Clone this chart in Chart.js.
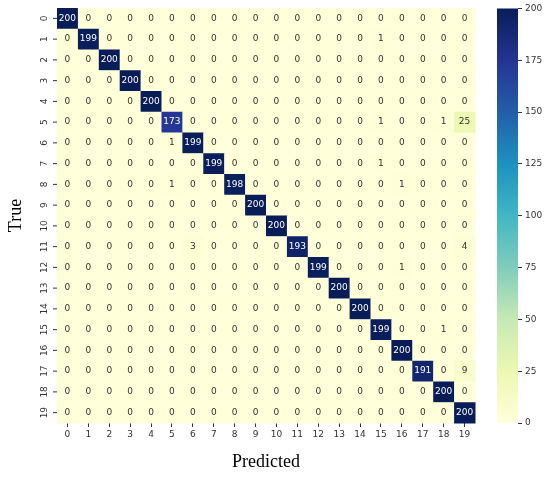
<!DOCTYPE html>
<html>
<head>
<meta charset="utf-8">
<script src="https://cdn.jsdelivr.net/npm/chart.js@4"></script>
<style>
  body { margin: 0; background: #fff; }
  #wrap { position: relative; width: 550px; height: 477px; }
  #main { position: absolute; left: 0; top: 0; }
  #bar { position: absolute; left: 490px; top: 0; }
</style>
</head>
<body>
<div id="wrap">
  <canvas id="main" width="490" height="477"></canvas>
  <canvas id="bar" width="60" height="477"></canvas>
</div>
<script>
const labels = Array.from({ length: 20 }, (_, i) => String(i));

// confusion matrix, rows = true class, cols = predicted
const matrix = [
  [200,0,0,0,0,0,0,0,0,0,0,0,0,0,0,0,0,0,0,0],
  [0,199,0,0,0,0,0,0,0,0,0,0,0,0,0,1,0,0,0,0],
  [0,0,200,0,0,0,0,0,0,0,0,0,0,0,0,0,0,0,0,0],
  [0,0,0,200,0,0,0,0,0,0,0,0,0,0,0,0,0,0,0,0],
  [0,0,0,0,200,0,0,0,0,0,0,0,0,0,0,0,0,0,0,0],
  [0,0,0,0,0,173,0,0,0,0,0,0,0,0,0,1,0,0,1,25],
  [0,0,0,0,0,1,199,0,0,0,0,0,0,0,0,0,0,0,0,0],
  [0,0,0,0,0,0,0,199,0,0,0,0,0,0,0,1,0,0,0,0],
  [0,0,0,0,0,1,0,0,198,0,0,0,0,0,0,0,1,0,0,0],
  [0,0,0,0,0,0,0,0,0,200,0,0,0,0,0,0,0,0,0,0],
  [0,0,0,0,0,0,0,0,0,0,200,0,0,0,0,0,0,0,0,0],
  [0,0,0,0,0,0,3,0,0,0,0,193,0,0,0,0,0,0,0,4],
  [0,0,0,0,0,0,0,0,0,0,0,0,199,0,0,0,1,0,0,0],
  [0,0,0,0,0,0,0,0,0,0,0,0,0,200,0,0,0,0,0,0],
  [0,0,0,0,0,0,0,0,0,0,0,0,0,0,200,0,0,0,0,0],
  [0,0,0,0,0,0,0,0,0,0,0,0,0,0,0,199,0,0,1,0],
  [0,0,0,0,0,0,0,0,0,0,0,0,0,0,0,0,200,0,0,0],
  [0,0,0,0,0,0,0,0,0,0,0,0,0,0,0,0,0,191,0,9],
  [0,0,0,0,0,0,0,0,0,0,0,0,0,0,0,0,0,0,200,0],
  [0,0,0,0,0,0,0,0,0,0,0,0,0,0,0,0,0,0,0,200],
];
const colorTicks = [0, 25, 50, 75, 100, 125, 150, 175, 200];

// YlGnBu
const stops = ["#ffffd9","#edf8b1","#c7e9b4","#7fcdbb","#41b6c4","#1d91c0","#225ea8","#253494","#081d58"];
function hex(c) { return [1,3,5].map(i => parseInt(c.substr(i,2),16)); }
function cmap(t) {
  t = Math.max(0, Math.min(1, t)) * (stops.length - 1);
  const i = Math.min(Math.floor(t), stops.length - 2), f = t - i;
  const a = hex(stops[i]), b = hex(stops[i+1]);
  return "rgb(" + a.map((v, k) => Math.round(v + (b[k]-v)*f)).join(",") + ")";
}

const points = [];
matrix.forEach((row, r) => row.forEach((v, c) => points.push({ x: c, y: r, v: v })));

const heatPlugin = {
  id: "heat",
  beforeDatasetsDraw(chart) {
    const { ctx, scales: { x, y } } = chart;
    ctx.save();
    ctx.font = "9px 'DejaVu Sans'";
    ctx.textAlign = "center";
    ctx.textBaseline = "middle";
    points.forEach(p => {
      const x0 = x.getPixelForValue(p.x - 0.5), x1 = x.getPixelForValue(p.x + 0.5);
      const y0 = y.getPixelForValue(p.y - 0.5), y1 = y.getPixelForValue(p.y + 0.5);
      ctx.fillStyle = cmap(p.v / 200);
      ctx.fillRect(x0, y0, x1 - x0 + 0.5, y1 - y0 + 0.5);
    });
    points.forEach(p => {
      ctx.fillStyle = p.v > 100 ? "#ffffff" : "#333333";
      ctx.fillText(String(p.v), x.getPixelForValue(p.x), y.getPixelForValue(p.y));
    });
    // rotated y tick labels and tick marks
    ctx.fillStyle = "#333";
    ctx.strokeStyle = "#333";
    ctx.lineWidth = 1;
    labels.forEach((l, i) => {
      const py = y.getPixelForValue(i);
      ctx.beginPath();
      ctx.moveTo(y.right - 4, py);
      ctx.lineTo(y.right, py);
      ctx.stroke();
      ctx.save();
      ctx.translate(45, py);
      ctx.rotate(-Math.PI / 2);
      ctx.fillText(l, 0, 0);
      ctx.restore();
    });
    // axis titles
    ctx.fillStyle = "#000";
    ctx.font = "18px 'Liberation Serif'";
    ctx.fillText("Predicted", (x.left + x.right) / 2, 462);
    ctx.save();
    ctx.translate(16, (y.top + y.bottom) / 2);
    ctx.rotate(-Math.PI / 2);
    ctx.fillText("True", 0, 0);
    ctx.restore();
    ctx.restore();
  }
};

new Chart(document.getElementById("main"), {
  type: "scatter",
  data: { datasets: [{ data: points, pointRadius: 0 }] },
  plugins: [heatPlugin],
  options: {
    responsive: false,
    animation: false,
    layout: { padding: { top: 8, right: 15, left: 0, bottom: 0 } },
    plugins: { legend: { display: false }, tooltip: { enabled: false } },
    scales: {
      x: {
        min: -0.5, max: 19.5,
        afterFit: s => { s.height = 54; },
        afterBuildTicks: s => { s.ticks = labels.map((_, i) => ({ value: i })); },
        grid: { drawOnChartArea: false, drawTicks: true, tickLength: 4, color: "#333" },
        border: { display: false },
        ticks: { color: "#333", font: { size: 9, family: "DejaVu Sans" }, maxRotation: 0, padding: 2, callback: v => labels[v] },
      },
      y: {
        reverse: true,
        min: -0.5, max: 19.5,
        afterFit: s => { s.width = 57; },
        afterBuildTicks: s => { s.ticks = labels.map((_, i) => ({ value: i })); },
        grid: { display: false },
        border: { display: false },
        ticks: { display: false },
      },
    },
  },
});

// colorbar
const barCtx = document.getElementById("bar").getContext("2d");
const grad = barCtx.createLinearGradient(0, 423, 0, 8);
stops.forEach((c, i) => grad.addColorStop(i / (stops.length - 1), c));

new Chart(barCtx, {
  type: "bar",
  data: { labels: [""], datasets: [{ data: [[0, 200]], backgroundColor: grad, barPercentage: 1, categoryPercentage: 1 }] },
  options: {
    responsive: false,
    animation: false,
    layout: { padding: { top: 8, bottom: 54, left: 7, right: 0 } },
    plugins: { legend: { display: false }, tooltip: { enabled: false } },
    scales: {
      x: { display: false },
      y: {
        position: "right",
        min: 0, max: 200,
        afterFit: s => { s.width = 32; },
        afterBuildTicks: s => { s.ticks = colorTicks.map(v => ({ value: v })); },
        grid: { drawOnChartArea: false, drawTicks: true, tickLength: 4, color: "#333" },
        border: { display: false },
        ticks: { color: "#333", font: { size: 9, family: "DejaVu Sans" }, padding: 3 },
      },
    },
  },
});
</script>
</body>
</html>
